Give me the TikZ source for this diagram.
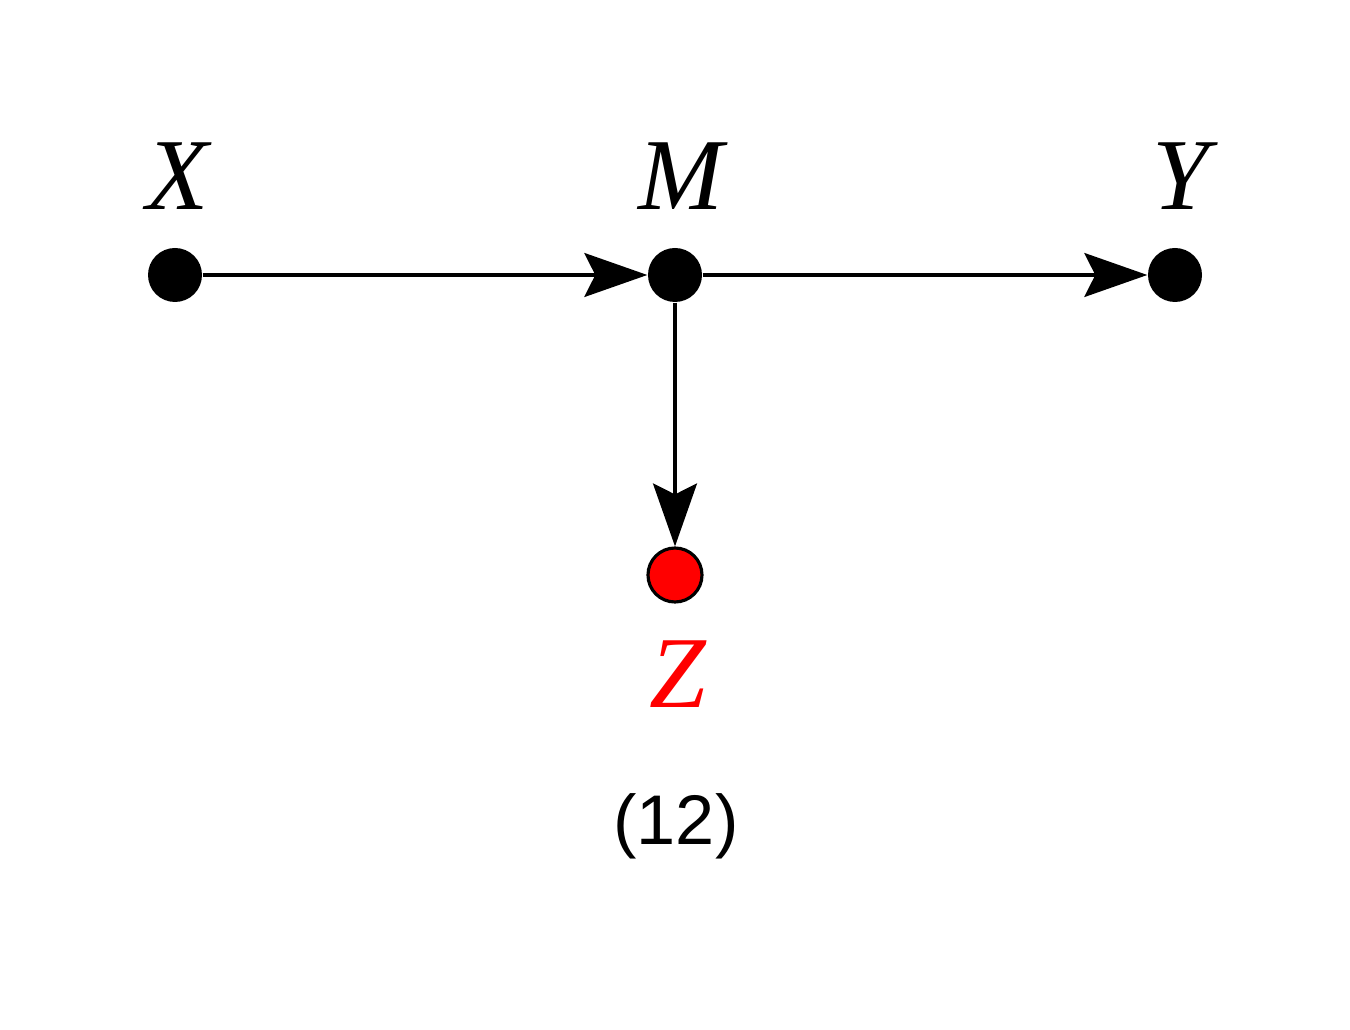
\documentclass[tikz,border=0pt]{standalone}
\usepackage{fontspec}
\setmainfont{Liberation Serif}
\newfontfamily\labelsans{Liberation Sans}
\usepackage{tikz}
\usetikzlibrary{arrows.meta,calc,positioning}

\tikzset{
  dot/.style={circle,fill=black,inner sep=0pt,minimum size=5.4mm},
  reddot/.style={dot,fill=red,draw=black,line width=0.9pt},
  varlabel/.style={anchor=base,font=\fontsize{29}{35}\selectfont\itshape},
  edge/.style={line width=0.9pt,-{Stealth[length=6.3mm,width=4.4mm,inset=1.1mm]}}
}

\begin{document}
\begin{tikzpicture}
\useasboundingbox (0,0) rectangle (13.5,10.3);
\node[dot] (X) at (1.75,7.55) {};
\node[dot] (M) at (6.75,7.55) {};
\node[dot] (Y) at (11.75,7.55) {};
\node[reddot] (Z) at (6.75,4.55) {};
\node[varlabel] (lX) at (1.78,8.2) {X};
\node[varlabel] (lM) at (6.81,8.2) {M};
\node[varlabel] (lY) at (11.81,8.2) {Y};
\node[varlabel,text=red] (lZ) at (6.78,3.22) {Z};
\node[anchor=base,font=\labelsans\fontsize{20}{24}\selectfont] (num) at (6.76,1.85) {(12)};
\draw[edge] (X) -- (M);
\draw[edge] (M) -- (Y);
\draw[edge] (M) -- (Z);
\end{tikzpicture}
\end{document}
